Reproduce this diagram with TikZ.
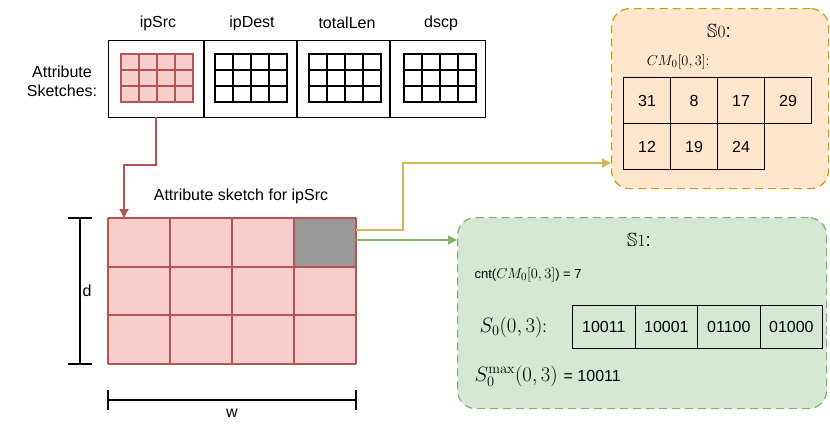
\documentclass[tikz,border=0pt]{standalone}
\usepackage{amsmath,amssymb}
\usepackage[no-math]{fontspec}
\setmainfont{Liberation Sans}
\usetikzlibrary{arrows.meta}
\definecolor{rfill}{HTML}{F8CECC}\definecolor{rline}{HTML}{B85450}
\definecolor{ofill}{HTML}{FFE6CC}\definecolor{oline}{HTML}{D79B00}
\definecolor{gfill}{HTML}{D5E8D4}\definecolor{gline}{HTML}{82B366}
\definecolor{yline}{HTML}{D6B656}
\begin{document}
\begin{tikzpicture}[x=1pt,y=-1pt,font=\fontsize{16}{19}\selectfont,line width=1.2pt,
  txt/.style={inner sep=0pt,anchor=center},
  cell/.style={draw=black,minimum width=47pt,minimum height=46pt,inner sep=0pt,anchor=north west},
  bcell/.style={draw=black,minimum width=62.5pt,minimum height=43pt,inner sep=0pt,anchor=north west},
  arr/.style={-{Triangle[length=9pt,width=9pt]}}]
\useasboundingbox (0,0) rectangle (830,424);
% top box
\node[draw,minimum width=377pt,minimum height=77pt,anchor=north west,inner sep=0pt] (top) at (108,40) {};
\foreach \x in {204,297,390} \draw (\x,40) -- (\x,117);
\node[txt] (l1) at (158,23) {ipSrc};
\node[txt] (l2) at (252,23) {ipDest};
\node[txt] (l3) at (347,23) {totalLen};
\node[txt] (l4) at (441,23) {dscp};
\node[txt,align=center] (as) at (62,81) {Attribute\\Sketches:};
\fill[rfill] (121,54) rectangle (193,102);
\begin{scope}[shift={(121,54)}]
  \draw[rline] (0,0) rectangle (72,48);
  \foreach \i in {18,36,54} \draw[rline] (\i,0) -- (\i,48);
  \foreach \j in {16,32} \draw[rline] (0,\j) -- (72,\j);
\end{scope}
\foreach \x in {215,309,404}{
  \begin{scope}[shift={(\x,54)}]
  \draw (0,0) rectangle (72,48);
  \foreach \i in {18,36,54} \draw (\i,0) -- (\i,48);
  \foreach \j in {16,32} \draw (0,\j) -- (72,\j);
  \end{scope}}
\coordinate (src) at (156,117);
% big grid
\fill[rfill] (108,218) rectangle (356,364);
\fill[black!40] (294,218) rectangle (356,267);
\foreach \x in {108,170,232,294,356} \draw[rline] (\x,218) -- (\x,364);
\foreach \y in {218,267,315,364} \draw[rline] (108,\y) -- (356,\y);
\coordinate (gtop) at (124,218);
\node[txt] (at) at (241,196) {Attribute sketch for ipSrc};
\draw[rline,arr] (src) -- (156,165) -| (gtop);
% dims
\draw (80,218) -- (80,364);
\draw (68,218) -- (92,218) (68,364) -- (92,364);
\node[txt] (d) at (87,291) {d};
\draw (108,400) -- (356,400);
\draw (108,390) -- (108,410) (356,390) -- (356,410);
\node[txt] (w) at (232,413) {w};
% orange box
\node[draw=oline,fill=ofill,dash pattern=on 8pt off 5pt,rounded corners=18pt,minimum width=217pt,minimum height=180pt,anchor=north west] (s0) at (611,8) {};
\node[txt] (s0t) at (719,31) {\fontsize{19}{21}\selectfont$\mathbb{S}0$:};
\node[txt] (cmt) at (678,62) {\fontsize{15}{17}\selectfont $CM_0[0,3]$\fontsize{12}{14}\selectfont:};
\foreach \v [count=\i from 0] in {31,8,17,29} \node[cell] (a\i) at (623+47*\i,77) {\v};
\foreach \v [count=\i from 0] in {12,19,24} \node[cell] (b\i) at (623+47*\i,123) {\v};
% green box
\node[draw=gline,fill=gfill,dash pattern=on 8pt off 5pt,rounded corners=18pt,minimum width=369pt,minimum height=191pt,anchor=north west] (s1) at (457,217) {};
\node[txt] (s1t) at (639,240) {\fontsize{19}{21}\selectfont$\mathbb{S}1$:};
\node[txt,anchor=west] (cnt) at (474,275) {\fontsize{13}{15}\selectfont cnt(\fontsize{15}{17}\selectfont$CM_0[0,3]$\fontsize{13}{15}\selectfont) = 7};
\node[txt,anchor=west] (sl) at (479,327) {\fontsize{21}{24}\selectfont $S_0(0,3)$\fontsize{16}{19}\selectfont:};
\foreach \v [count=\i from 0] in {10011,10001,01100,01000} \node[bcell] (c\i) at (572+62.5*\i,305) {\v};
\node[txt,anchor=west] (smax) at (474,376) {\fontsize{21}{24}\selectfont $S_0^{\max}(0,3)$ \fontsize{16}{19}\selectfont = 10011};
% arrows
\draw[yline,arr] (356,230) -- (403,230) |- (s0.west|-0,163);
\draw[gline,arr] (356,240) -- (s1.west|-0,240);
\end{tikzpicture}
\end{document}
